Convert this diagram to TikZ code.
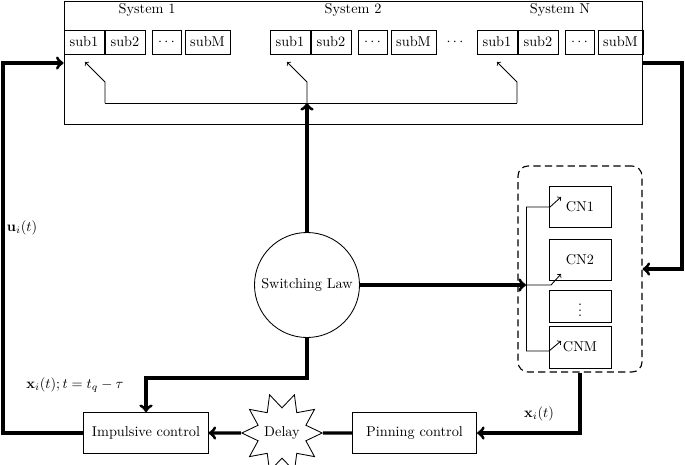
\documentclass[tikz,border=0pt]{standalone}
\usetikzlibrary{shapes.geometric,calc}
\begin{document}
\begin{tikzpicture}[x=0.7pt,y=-0.7pt,
  box/.style={draw,line width=0.6pt,inner sep=0pt,minimum height=16.8pt},
  subw/.style={box,minimum width=28pt},
  dotw/.style={box,minimum width=20.3pt},
  submw/.style={box,minimum width=31.5pt},
  cnbox/.style={draw,line width=0.6pt,inner sep=0pt,minimum width=43.4pt},
  ctrl/.style={draw,line width=0.6pt,inner sep=0pt,minimum width=87pt,minimum height=28.7pt},
  thk/.style={line width=2.2pt},
  thn/.style={line width=0.6pt}]
\useasboundingbox (0,0) rectangle (685,464);

% system rectangle
\node[draw,line width=0.6pt,minimum width=404.6pt,minimum height=86.1pt,inner sep=0pt] (sys) at (353,62.5) {};
\node (lab1) at (147,10) {System 1};
\node (lab2) at (353,10) {System 2};
\node (lab3) at (560,10) {System N};

% group 1
\node[subw]  (a1) at (84,42)  {sub1};
\node[subw]  (a2) at (125,42) {sub2};
\node[dotw]  (a3) at (166.5,42) {$\cdots$};
\node[submw] (a4) at (207.5,42) {subM};
% group 2
\node[subw]  (b1) at (290,42)  {sub1};
\node[subw]  (b2) at (331,42) {sub2};
\node[dotw]  (b3) at (372.5,42) {$\cdots$};
\node[submw] (b4) at (413.5,42) {subM};
\node (gd) at (455,42) {$\cdots$};
% group 3
\node[subw]  (c1) at (497,42)  {sub1};
\node[subw]  (c2) at (538,42) {sub2};
\node[dotw]  (c3) at (579.5,42) {$\cdots$};
\node[submw] (c4) at (620.5,42) {subM};

% internal switching arrows
\coordinate (hl) at (105,103);
\coordinate (hm) at (307,103);
\coordinate (hr) at (517,103);
\coordinate (ta) at (85,62);
\coordinate (tb) at (287,62);
\coordinate (tc) at (497,62);
\draw[thn,->] (hl) -- (105,82) -- (ta);
\draw[thn] (hl) -- (hr);
\draw[thn,->] (hm) -- (307,82) -- (tb);
\draw[thn,->] (hr) -- (517,82) -- (tc);

% switching law
\node[draw,circle,line width=0.6pt,minimum size=73.5pt,inner sep=0pt] (sw) at (307,285) {Switching Law};

% CN group
\node[draw,dash pattern=on 5pt off 3pt,line width=0.8pt,rounded corners=7pt,minimum width=86.8pt,minimum height=144.2pt,inner sep=0pt] (cng) at (580,269) {};
\node[cnbox,minimum height=28.7pt] (cn1) at (580,206.5) {CN1};
\node[cnbox,minimum height=28.7pt] (cn2) at (580,259.5) {CN2};
\node[cnbox,minimum height=22.4pt] (cnd) at (580,306) {};
\node[inner sep=0pt] (cndots) at (580,306) {$\vdots$};
\node[cnbox,minimum height=29.4pt] (cnm) at (580,347) {CNM};

\coordinate (v1) at (526,207);
\coordinate (v2) at (526,285);
\coordinate (v3) at (526,351);
\draw[thn] (v1) -- (v3);
\draw[thn,->] (v1) -- (550,207) -- (561,197);
\draw[thn,->] (v2) -- (551,285) -- (561,274);
\draw[thn,->] (v3) -- (549,351) -- (561,341);

% controls
\node[ctrl] (imp) at (146,433) {Impulsive control};
\node[draw,star,star points=10,star point ratio=1.6,shape border rotate=18,line width=0.6pt,minimum size=44pt,inner sep=0pt] (dly) at (282,433) {Delay};
\node[ctrl] (pin) at (414.5,433) {Pinning control};

% labels
\node (lu) at (22,228) {$\mathbf{u}_i(t)$};
\node (lx1) at (75,385) {$\mathbf{x}_i(t); t=t_q-\tau$};
\node (lx2) at (539,414) {$\mathbf{x}_i(t)$};

% thick connectors
\coordinate (t1) at (146,378);
\coordinate (ul) at (3,63);
\coordinate (ur) at (682,63);
\draw[thk,->] (sw.north) -- (hm);
\draw[thk,->] (sw.east) -- (v2);
\draw[thk,->] (sw.south) |- (t1) -- (imp.north);
\draw[thk,->] (imp.west) -| (ul) -- (ul -| sys.west);
\draw[thk,->] (dly.west) -- (imp.east);
\draw[thk] (pin.west) -- (dly.east);
\draw[thk,->] (cng.south) |- (pin.east);
\draw[thk,->] (ur -| sys.east) -- (ur) |- (cng.east);
\end{tikzpicture}
\end{document}
